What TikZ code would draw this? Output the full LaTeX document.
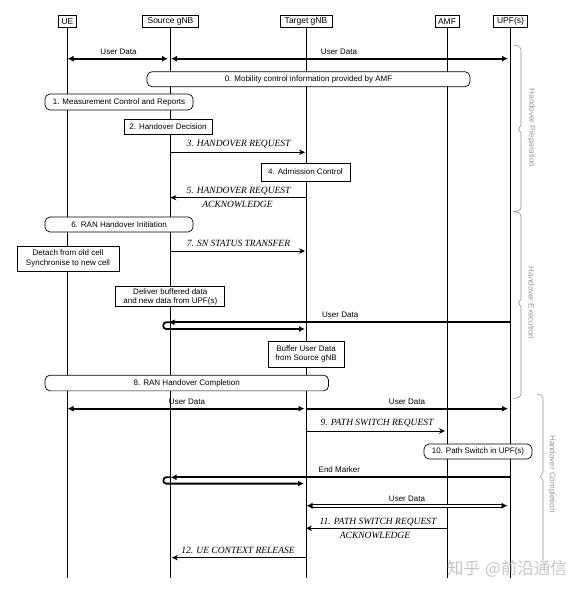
\documentclass[tikz,border=0pt]{standalone}
\usepackage{fontspec}
\setmainfont{Liberation Sans}
\newfontfamily\msgserif{Liberation Serif}
\newfontfamily\cjkwm{Noto Sans CJK SC}
\usetikzlibrary{arrows.meta}
\tikzset{
  udh/.tip={Latex[length=6pt,width=6pt]},
  msh/.tip={Stealth[length=6pt,width=5.5pt,inset=2pt]},
}
\begin{document}
\begin{tikzpicture}[x=1pt,y=-1pt,
  hdr/.style={draw, line width=0.7pt, font=\fontsize{8.5}{10}\selectfont, inner sep=0pt, minimum height=11.5pt},
  life/.style={line width=0.8pt},
  rbox/.style={draw, fill=white, rounded corners=5pt, line width=0.7pt, font=\fontsize{8}{9.5}\selectfont, inner sep=0pt},
  sbox/.style={draw, fill=white, line width=0.7pt, font=\fontsize{8}{9.5}\selectfont, inner sep=0pt, align=center},
  ud/.style={line width=1.8pt},
  msg/.style={line width=0.6pt, -{msh}},
  ml/.style={font=\msgserif\itshape\fontsize{9.5}{11}\selectfont, inner sep=0pt},
  ul/.style={font=\fontsize{8}{9.5}\selectfont, inner sep=0pt},
  brace/.style={draw=gray!85, line width=0.6pt},
  bl/.style={font=\fontsize{8}{9.5}\selectfont, text=gray!80, rotate=-90, inner sep=0pt},
]
\fill[white] (0,0) rectangle (582,594);
\useasboundingbox (0,0) rectangle (582,594);

% header boxes
\node[hdr, minimum width=17.5pt] (ue) at (67.5,21.5) {UE};
\node[hdr, minimum width=55.5pt] (src) at (170.5,21.5) {Source gNB};
\node[hdr, minimum width=52pt] (tgt) at (306,21.5) {Target gNB};
\node[hdr, minimum width=24pt] (amf) at (447,21.5) {AMF};
\node[hdr, minimum width=34pt] (upf) at (510.5,21.5) {UPF(s)};

% rows
\coordinate (bot) at (0,578);
\coordinate (r0) at (0,58.7);
\coordinate (r3) at (0,152.3);
\coordinate (r5) at (0,197.7);
\coordinate (r7) at (0,251);
\coordinate (r7a) at (0,322.3);
\coordinate (r7b) at (0,329);
\coordinate (r8) at (0,408.7);
\coordinate (r9) at (0,431);
\coordinate (r10a) at (0,477.3);
\coordinate (r10b) at (0,483.6);
\coordinate (r10c) at (0,505.7);
\coordinate (r11) at (0,528.3);
\coordinate (r12) at (0,557.7);

% lifelines
\foreach \n in {ue,src,tgt,amf,upf}
  \draw[life] (\n.south) -- (\n.south |- bot);

% step boxes
\node[rbox, minimum width=323pt, minimum height=15pt] (b0) at (308.5,79.2) {0. Mobility control information provided by AMF};
\node[rbox, minimum width=148pt, minimum height=16pt] (b1) at (119,102) {1. Measurement Control and Reports};
\node[sbox, minimum width=88pt, minimum height=15pt] (b2) at (168,126.5) {2. Handover Decision};
\node[sbox, minimum width=89pt, minimum height=18pt] (b4) at (305.5,172) {4. Admission Control};
\node[rbox, minimum width=148pt, minimum height=15pt] (b6) at (119,224.5) {6. RAN Handover Initiation};
\node[sbox, minimum width=102pt, minimum height=25pt] (bdet) at (68,258.5) {Detach from old cell\\Synchronise to new cell};
\node[sbox, minimum width=109pt, minimum height=20pt] (bdel) at (170.3,296.7) {Deliver buffered data\\and new data from UPF(s)};
\node[sbox, minimum width=76pt, minimum height=26pt] (bbuf) at (306,354) {Buffer User Data\\from Source gNB};
\node[rbox, minimum width=283.5pt, minimum height=15.7pt] (b8) at (186.8,383) {8. RAN Handover Completion};
\node[rbox, minimum width=108pt, minimum height=15pt] (b10) at (478,451.5) {10. Path Switch in UPF(s)};

% user data (row 0)
\draw[ud, {udh}-{udh}, shorten >=2.5pt] (ue |- r0) -- (src |- r0);
\draw[ud, {udh}-{udh}, shorten <=0.5pt, shorten >=2.5pt] (src |- r0) -- (upf |- r0);
\node[ul] (l0a) at (118.5,51.7) {User Data};
\node[ul] (l0b) at (339,51.7) {User Data};

% 3
\draw[msg, shorten >=1pt] (src |- r3) -- (tgt |- r3);
\node[ml] (l3) at (238.5,144.3) {3. HANDOVER REQUEST};
% 5
\draw[msg] (tgt |- r5) -- (src |- r5);
\node[ml] (l5a) at (238.5,190.7) {5. HANDOVER REQUEST};
\node[ml] (l5b) at (237.5,204) {ACKNOWLEDGE};
% 7
\draw[msg, shorten >=1pt] (src |- r7) -- (tgt |- r7);
\node[ml] (l7) at (238.5,243.3) {7. SN STATUS TRANSFER};

% user data forwarding loop
\node[ul, anchor=west] (l7u) at (322,315) {User Data};
\draw[ud, -{udh}, shorten >=-2pt] (upf |- r7a) -- (src |- r7a);
\draw[ud, -{udh}, shorten >=1pt] (src |- r7a) -- ++(-4.5,0) to[out=180,in=180,looseness=1.4] ++(0,6.7) -- (tgt |- r7b);

% user data (row 8)
\draw[ud, {udh}-{udh}, shorten >=1.5pt] (ue |- r8) -- (tgt |- r8);
\draw[ud, -{udh}, shorten >=2.5pt] (tgt |- r8) -- (upf |- r8);
\node[ul] (l8a) at (187,401.7) {User Data};
\node[ul] (l8b) at (407,401.7) {User Data};

% 9
\draw[msg, shorten >=2pt] (tgt |- r9) -- (amf |- r9);
\node[ml] (l9) at (377,423.3) {9. PATH SWITCH REQUEST};

% end marker loop
\node[ul, anchor=west] (lem) at (318.5,470) {End Marker};
\draw[ud, -{udh}] (upf |- r10a) -- (src |- r10a);
\draw[ud, -{udh}, shorten >=2pt] (src |- r10a) -- ++(-4.5,0) to[out=180,in=180,looseness=1.4] ++(0,6.3) -- (tgt |- r10b);

% user data double
\draw[line width=0.8pt, double distance=2.2pt, {udh}-{udh}, shorten <=0.5pt, shorten >=3pt] (tgt |- r10c) -- (upf |- r10c);
\node[ul] (l10u) at (407,499) {User Data};

% 11
\draw[msg] (amf |- r11) -- (tgt |- r11);
\node[ml] (l11a) at (378,521.7) {11. PATH SWITCH REQUEST};
\node[ml] (l11b) at (375,535) {ACKNOWLEDGE};
% 12
\draw[msg, shorten >=1.5pt] (tgt |- r12) -- (src |- r12);
\node[ml] (l12) at (238,550) {12. UE CONTEXT RELEASE};

% phase braces
\draw[brace] (513,45) .. controls (518,45) and (521,46.5) .. (521,51) -- (521,125) -- (518.5,129) -- (521,133) -- (521,206.5) .. controls (521,210.5) and (518,211.7) .. (513,211.7);
\draw[brace] (513,211.7) .. controls (518,211.7) and (521,213) .. (521,217) -- (521,299) -- (518.5,303) -- (521,307) -- (521,393) .. controls (521,397) and (518,398.3) .. (513,398.3);
\draw[brace] (537,394) .. controls (540.5,394) and (543,395.5) .. (543,400) -- (543,472.5) -- (540.5,476.5) -- (543,480.5) -- (543,560);
\node[bl] (p1) at (531.5,128) {Handover Preparation};
\node[bl] (p2) at (531.5,303) {Handover Execution};
\node[bl] (p3) at (552,474) {Handover Completion};

% watermark
\node[font=\cjkwm\fontsize{16.5}{16.5}\selectfont, text=gray!45, anchor=east, inner sep=0pt] (wm) at (567,569) {知乎\hspace{5pt}@前沿通信};
\end{tikzpicture}
\end{document}
